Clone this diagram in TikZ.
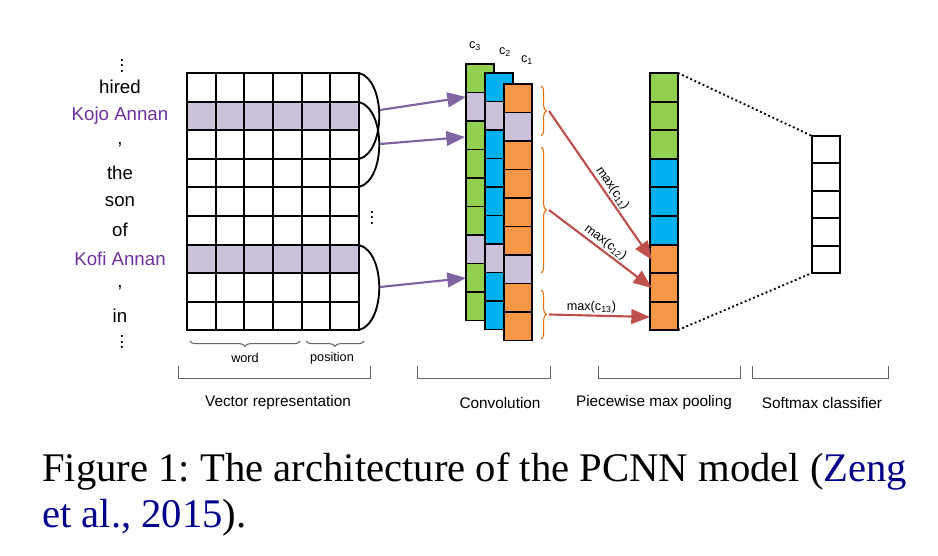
\documentclass[tikz,border=0pt]{standalone}
\usepackage{fontspec}
\setmainfont{Liberation Serif}
\newfontfamily\diag{Liberation Sans}
\usetikzlibrary{decorations.pathreplacing,arrows.meta}
\definecolor{lav}{RGB}{204,193,218}
\definecolor{grn}{RGB}{146,208,80}
\definecolor{blu}{RGB}{0,176,240}
\definecolor{org}{RGB}{247,150,70}
\definecolor{purp}{RGB}{128,100,162}
\definecolor{ptxt}{RGB}{112,48,160}
\definecolor{redd}{RGB}{192,80,77}
\definecolor{brc}{RGB}{228,108,10}
\definecolor{cite}{RGB}{0,0,139}
\tikzset{
  cell/.style={draw=black,line width=1.4pt},
  word/.style={font=\diag\fontsize{14}{15}\selectfont,anchor=center,inner sep=1pt},
  ent/.style={word,text=ptxt},
  lbl/.style={font=\diag\fontsize{11.5}{13}\selectfont},
  small/.style={font=\diag\fontsize{9.5}{11}\selectfont,inner sep=1pt},
  parr/.style={draw=purp,line width=1.6pt,-{Triangle[length=14pt,width=11pt]}},
  rarr/.style={draw=redd,line width=1.6pt,-{Triangle[length=14pt,width=11pt]}},
  obrace/.style={draw=brc,line width=0.8pt,decorate,decoration={brace,amplitude=4pt}},
  gbrace/.style={draw=black!60,line width=0.8pt,decorate,decoration={brace,amplitude=4pt,mirror}},
  bracket/.style={draw=black!60,line width=0.7pt},
}
\begin{document}
\begin{tikzpicture}[x=0.75pt,y=-0.75pt]
\useasboundingbox[fill=white] (0,0) rectangle (938,556);
% words
\foreach \w/\i in {hired/0,{,}/2,the/3,son/4,of/5,{,}/7,in/8}
  \node[word] (w\i) at (120,{73+28.6*(\i+0.5)}) {\w};
\node[ent] (w1) at (120,{73+28.6*1.5}) {Kojo Annan};
\node[ent] (w6) at (120,{73+28.6*6.5}) {Kofi Annan};
\node[word,inner sep=0pt] (dt) at (122,62) {$\vdots$};
\node[word,inner sep=0pt] (db) at (122,338) {$\vdots$};
% vector grid
\foreach \r in {1,6} \fill[lav] (187,{73+28.6*\r}) rectangle (359,{73+28.6*(\r+1)});
\foreach \r in {0,...,8} \foreach \c in {0,...,5}
  \draw[cell] ({187+28.67*\c},{73+28.6*\r}) rectangle ++(28.67,28.6);
% window arcs
\coordinate (a1) at (380,110);
\coordinate (a2) at (380,144);
\coordinate (a3) at (380,287);
\draw[line width=1.4pt] (359,73) .. controls (386,80) and (386,152) .. (359,159);
\draw[line width=1.4pt] (359,102) .. controls (386,109) and (386,180) .. (359,187);
\draw[line width=1.4pt] (359,245) .. controls (386,252) and (386,323) .. (359,330);
\node[word,inner sep=0pt] (dm) at (372,214) {$\vdots$};
% convolution columns
\foreach \x/\y/\col/\n in {466/64/grn/3,485/73/blu/2,504/84/org/1}{
  \foreach \r in {0,...,8}{
    \pgfmathsetmacro\cc{(\r==1||\r==6)?1:0}
    \ifdim\cc pt=1pt \def\fc{lav}\else\def\fc{\col}\fi
    \draw[cell,fill=\fc] (\x,{\y+28.5*\r}) rectangle ++(28,28.5);
  }
}
\node[small] (c3) at (475,46) {c\textsubscript{3}};
\node[small] (c2) at (505,52) {c\textsubscript{2}};
\node[small] (c1) at (527,60) {c\textsubscript{1}};
\draw[parr] (a1) -- (466,97);
\draw[parr] (a2) -- (465,137);
\draw[parr] (a3) -- (466,278);
% braces
\draw[obrace] (541,86) -- (541,136) coordinate[midway,xshift=6pt] (b1);
\draw[obrace] (541,147) -- (541,273) coordinate[midway,xshift=6pt] (b2);
\draw[obrace] (541,290) -- (541,339) coordinate[midway,xshift=6pt] (b3);
% pooling
\foreach \r/\col in {0/grn,1/grn,2/grn,3/blu,4/blu,5/blu,6/org,7/org,8/org}
  \draw[cell,fill=\col] (650,{73+28.6*\r}) rectangle ++(28,28.6);
\coordinate (p1) at (652,260);
\coordinate (p2) at (652,288);
\coordinate (p3) at (650,317);
\draw[rarr] (b1) -- (p1) node[small,pos=0.55,sloped,above] {max(c\textsubscript{11})};
\draw[rarr] (b2) -- (p2) node[small,pos=0.5,sloped,above] {max(c\textsubscript{12})};
\draw[rarr] (b3) -- (p3) node[small,pos=0.42,above] {max(c\textsubscript{13})};
% softmax
\foreach \r in {0,...,4} \draw[cell] (812,{136+27.4*\r}) rectangle ++(28,27.4);
\draw[dotted,line width=1.4pt] (678,73) -- (812,136);
\draw[dotted,line width=1.4pt] (678,330) -- (812,273);
% bottom braces and brackets
\draw[gbrace] (190,341) -- (300,341) coordinate[midway] (bw);
\draw[gbrace] (306,341) -- (364,341) coordinate[midway] (bp);
\node[small] (lw) at (245,358) {word};
\node[small] (lp) at (332,358) {position};
\draw[bracket] (178,366) -- (178,378) -- (370,378) -- (370,366);
\draw[bracket] (417,366) -- (417,378) -- (550,378) -- (550,366);
\draw[bracket] (598,366) -- (598,378) -- (740,378) -- (740,366);
\draw[bracket] (752,366) -- (752,378) -- (888,378) -- (888,366);
\node[lbl] (l1) at (278,403) {Vector representation};
\node[lbl] (l2) at (500,403) {Convolution};
\node[lbl] (l3) at (654,403) {Piecewise max pooling};
\node[lbl] (l4) at (822,403) {Softmax classifier};
% caption
\node[anchor=base west,inner sep=0,font=\fontsize{30.5}{34}\selectfont] (cap1) at (42,481)
  {Figure 1:\ The architecture of the PCNN model (\textcolor{cite}{Zeng}};
\node[anchor=base west,inner sep=0,font=\fontsize{30.5}{34}\selectfont] (cap2) at (42,527)
  {\textcolor{cite}{et al., 2015}).};
\end{tikzpicture}
\end{document}
